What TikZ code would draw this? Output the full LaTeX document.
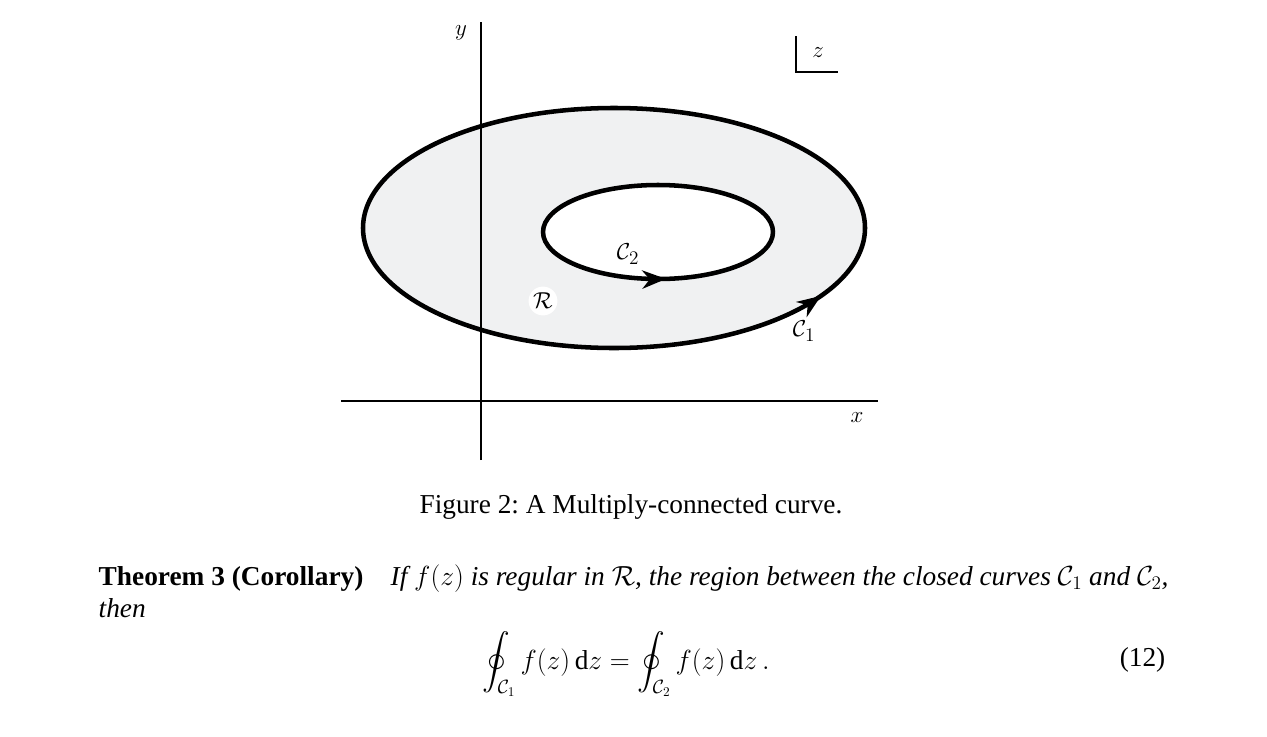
\documentclass[tikz,border=0pt]{standalone}
\usepackage{fontspec}
\setmainfont{Liberation Serif}
\usepackage{amsmath}
\usetikzlibrary{arrows.meta,decorations.markings}
\definecolor{regiongray}{HTML}{F0F1F2}
\begin{document}
\begin{tikzpicture}[x=0.75pt,y=-0.75pt,
  curve/.style={line width=3.4pt},
  axis/.style={line width=1.4pt},
  lbl/.style={font=\fontsize{19}{22}\selectfont},
  txt/.style={font=\fontsize{20.5}{24}\selectfont}]
\useasboundingbox (0,0) rectangle (1267,736);
% region
\fill[regiongray,even odd rule] (614,228) ellipse [x radius=251,y radius=120]
  (658,232) ellipse [x radius=115,y radius=47];
% axes
\coordinate (yb) at (481,460); \coordinate (yt) at (481,22);
\coordinate (xl) at (341,401); \coordinate (xr) at (878,401);
\draw[axis] (yb) -- (yt);
\draw[axis] (xl) -- (xr);
\node[lbl] (ylab) at (461,33) {$y$};
\node[lbl] (xlab) at (857,418) {$x$};
% z box
\coordinate (z1) at (796,36); \coordinate (z2) at (796,72); \coordinate (z3) at (838,72);
\draw[axis] (z1) -- (z2) -- (z3);
\node[lbl] (zlab) at (818,53) {$z$};
% curves
\draw[curve,postaction={decorate},decoration={markings,
  mark=at position 0.93 with {\arrow[line width=1pt]{Stealth[length=18pt,width=14pt]}}}]
  (865,228) arc[start angle=0,end angle=-360,x radius=251,y radius=120];
\draw[curve,postaction={decorate},decoration={markings,
  mark=at position 0.765 with {\arrow[line width=1pt]{Stealth[length=18pt,width=14pt]}}}]
  (773,232) arc[start angle=0,end angle=-360,x radius=115,y radius=47];
\node[lbl,fill=white,circle,inner sep=1pt] (R) at (543,301) {$\mathcal{R}$};
\node[lbl] (c2) at (628,254) {$\mathcal{C}_2$};
\node[lbl] (c1) at (804,331) {$\mathcal{C}_1$};
% caption
\node[txt] (cap) at (631,507) {Figure 2:\ A Multiply-connected curve.};
\node[txt,anchor=base west] (th1) at (94,585) {\textbf{Theorem 3 (Corollary)}\quad \textit{If $f(z)$ is regular in $\mathcal{R}$, the region between the closed curves $\mathcal{C}_1$ and $\mathcal{C}_2$,}};
\node[txt,anchor=base west] (th2) at (94,617) {\textit{then}};
\node[txt] (eq) at (626,664) {$\displaystyle \oint_{\mathcal{C}_1} f(z)\,\mathrm{d}z=\oint_{\mathcal{C}_2} f(z)\,\mathrm{d}z\,.$};
\node[txt,anchor=east] (num) at (1170,660) {(12)};
\end{tikzpicture}
\end{document}
